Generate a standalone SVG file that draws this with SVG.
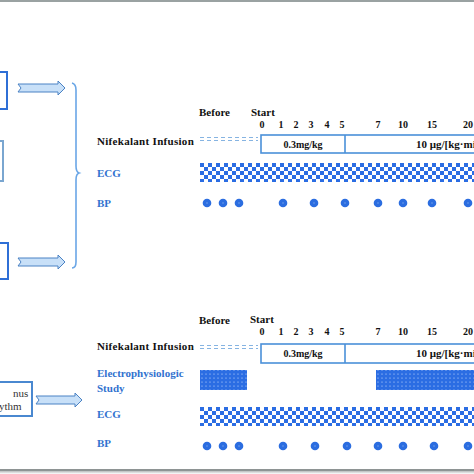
<svg xmlns="http://www.w3.org/2000/svg" width="474" height="474" viewBox="0 0 474 474">
<defs>
<style>
.lbl{font-family:"Liberation Serif","Times New Roman",serif;font-weight:bold;font-size:11px;fill:#111}
.blue{fill:#3272cf}
.num{font-family:"Liberation Serif","Times New Roman",serif;font-weight:bold;font-size:10px;fill:#111;text-anchor:middle}
.box{fill:none;stroke-width:2}
.arr{fill:#c8e0f8;stroke:#4a82c4;stroke-width:1}
.dash{stroke:#86b4e2;stroke-width:1;stroke-dasharray:4 3}
.inf{fill:#fff;stroke:#4a90d9;stroke-width:1.6}
.sm{font-family:"Liberation Serif","Times New Roman",serif;font-size:11px;fill:#333}
</style>
<pattern id="chk" x="200" y="163" width="8" height="8" patternUnits="userSpaceOnUse">
<rect width="8" height="8" fill="#fff"/>
<rect width="4" height="4" fill="#2b6de3"/>
<rect x="4" y="4" width="4" height="4" fill="#2b6de3"/>
</pattern>
<pattern id="chk2" x="200" y="407" width="8" height="8" patternUnits="userSpaceOnUse">
<rect width="8" height="8" fill="#fff"/>
<rect width="4" height="4" fill="#2b6de3"/>
<rect x="4" y="4" width="4" height="4" fill="#2b6de3"/>
</pattern>
<pattern id="ep" width="4" height="4" patternUnits="userSpaceOnUse">
<rect width="4" height="4" fill="#2b6de3"/>
<circle cx="2" cy="2" r="0.6" fill="#cfe0ff"/>
</pattern>
<linearGradient id="sh" x1="0" y1="0" x2="0" y2="1">
<stop offset="0" stop-color="#b8bcbc"/>
<stop offset="1" stop-color="#fff"/>
</linearGradient>
<g id="d"><circle r="4.3" fill="#2b6de0"/><circle r="0.8" fill="#6f9ee8"/></g>
</defs>
<rect width="474" height="474" fill="#fff"/>
<rect x="0" y="0" width="474" height="2" fill="#9aa2a2"/>
<rect x="0" y="469" width="474" height="2" fill="#8e9494"/>
<rect x="0" y="471" width="474" height="3" fill="url(#sh)"/>

<g id="box1"><rect class="box" x="-10" y="72" width="17" height="37" stroke="#2f6fd6"/></g>
<g id="box2"><rect class="box" x="-10" y="141" width="13" height="40" stroke="#7aa6d0" stroke-width="1.5"/></g>
<g id="box3"><rect class="box" x="-10" y="243" width="18" height="36" stroke="#2f6fd6"/></g>
<g id="box4"><rect class="box" x="-10" y="382" width="42" height="34" stroke="#4a88d0" stroke-width="1.5"/>
<text class="sm" x="13" y="397">nus</text>
<text class="sm" x="-1" y="410">ythm</text></g>

<g id="connectors">
<path class="arr" d="M18,84 L58,84 L58,81 L65,88 L58,95 L58,92 L18,92 L21,88 Z"/>
<path class="arr" d="M18,258 L58,258 L58,255 L65,262 L58,269 L58,266 L18,266 L21,262 Z"/>
<path class="arr" d="M36,396 L75,396 L75,393 L82,400 L75,407 L75,404 L36,404 L39,400 Z"/>
<path d="M72,83 Q76,84 76,90 L76,166 Q76,172 79,173 Q76,174 76,180 L76,262 Q76,268 72,268" fill="none" stroke="#6aa6e6" stroke-width="1.6"/>
</g>

<g id="panel-top">
<text class="lbl" x="97" y="145" letter-spacing="0.3">Nifekalant  Infusion</text>
<text class="lbl blue" x="97" y="177">ECG</text>
<text class="lbl blue" x="97" y="207">BP</text>
<text class="lbl" x="199" y="116" font-size="10">Before</text>
<text class="lbl" x="251" y="116" font-size="10">Start</text>
<text class="num" x="262" y="128">0</text>
<text class="num" x="281" y="128">1</text>
<text class="num" x="296" y="128">2</text>
<text class="num" x="311" y="128">3</text>
<text class="num" x="327" y="128">4</text>
<text class="num" x="342" y="128">5</text>
<text class="num" x="378" y="128">7</text>
<text class="num" x="403" y="128">10</text>
<text class="num" x="432" y="128">15</text>
<text class="num" x="468" y="128">20</text>
<line class="dash" x1="200" y1="137.5" x2="258" y2="137.5"/>
<line class="dash" x1="200" y1="140.5" x2="258" y2="140.5"/>
<rect class="inf" x="261" y="135" width="220" height="18"/>
<line x1="345" y1="135" x2="345" y2="153" stroke="#4a90d9" stroke-width="1.6"/>
<text class="num" x="303" y="148">0.3mg/kg</text>
<text class="lbl" x="416" y="148" font-size="10">10 μg/[kg·min]</text>
<rect x="200" y="163" width="274" height="19" fill="url(#chk)"/>
<g>
<use href="#d" x="207" y="203"/><use href="#d" x="223" y="203"/><use href="#d" x="239" y="203"/>
<use href="#d" x="283" y="203"/><use href="#d" x="314" y="203"/><use href="#d" x="345" y="203"/>
<use href="#d" x="378" y="203"/><use href="#d" x="403" y="203"/><use href="#d" x="432" y="203"/>
<use href="#d" x="468" y="203"/>
</g>
</g>

<g id="panel-bottom">
<text class="lbl" x="97" y="350" letter-spacing="0.3">Nifekalant  Infusion</text>
<text class="lbl blue" x="97" y="377">Electrophysiologic</text>
<text class="lbl blue" x="97" y="392">Study</text>
<text class="lbl blue" x="97" y="418">ECG</text>
<text class="lbl blue" x="97" y="447">BP</text>
<text class="lbl" x="199" y="324" font-size="10">Before</text>
<text class="lbl" x="250" y="323" font-size="10">Start</text>
<text class="num" x="262" y="335">0</text>
<text class="num" x="281" y="335">1</text>
<text class="num" x="296" y="335">2</text>
<text class="num" x="311" y="335">3</text>
<text class="num" x="327" y="335">4</text>
<text class="num" x="342" y="335">5</text>
<text class="num" x="378" y="335">7</text>
<text class="num" x="403" y="335">10</text>
<text class="num" x="432" y="335">15</text>
<text class="num" x="468" y="335">20</text>
<line class="dash" x1="200" y1="345.5" x2="258" y2="345.5"/>
<line class="dash" x1="200" y1="348.5" x2="258" y2="348.5"/>
<rect class="inf" x="261" y="344" width="220" height="19"/>
<line x1="345" y1="344" x2="345" y2="363" stroke="#4a90d9" stroke-width="1.6"/>
<text class="num" x="303" y="357">0.3mg/kg</text>
<text class="lbl" x="416" y="357" font-size="10">10 μg/[kg·min]</text>
<rect x="200" y="370" width="47" height="20" fill="url(#ep)"/>
<rect x="376" y="370" width="98" height="20" fill="url(#ep)"/>
<rect x="200" y="407" width="274" height="19" fill="url(#chk2)"/>
<g>
<use href="#d" x="207" y="446"/><use href="#d" x="223" y="446"/><use href="#d" x="239" y="446"/>
<use href="#d" x="283" y="446"/><use href="#d" x="315" y="446"/><use href="#d" x="347" y="446"/>
<use href="#d" x="378" y="446"/><use href="#d" x="403" y="446"/><use href="#d" x="434" y="446"/>
<use href="#d" x="468" y="446"/>
</g>
</g>
</svg>
